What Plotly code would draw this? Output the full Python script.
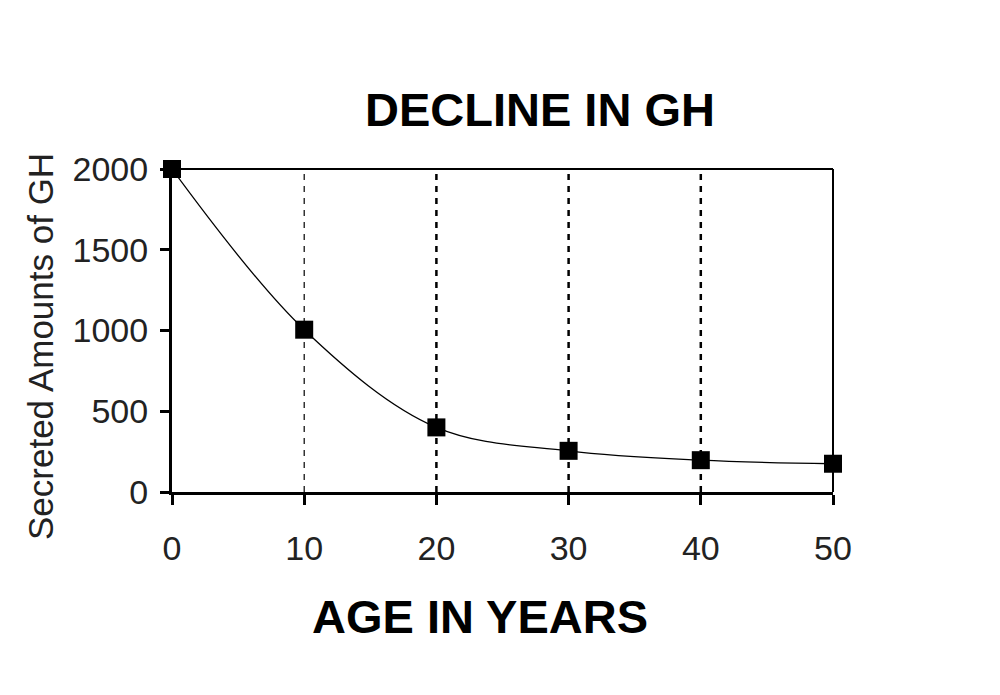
import plotly.graph_objects as go

age_years = [0, 10, 20, 30, 40, 50]
gh_amounts = [2000, 1005, 400, 255, 197, 175]
x_ticks = [0, 10, 20, 30, 40, 50]
y_ticks = [0, 500, 1000, 1500, 2000]
grid_x = [10, 20, 30, 40]
grid_widths = [1.2, 2.5, 2.5, 2.5]

fig = go.Figure()
fig.add_trace(go.Scatter(
    x=age_years, y=gh_amounts, mode="lines+markers",
    line=dict(color="black", width=1.3, shape="spline", smoothing=1.0),
    marker=dict(symbol="square", size=18, color="black"),
    showlegend=False, cliponaxis=False,
))

for gx, gw in zip(grid_x, grid_widths):
    fig.add_shape(type="line", xref="x", yref="y", x0=gx, x1=gx, y0=0, y1=2000,
                  line=dict(color="black", width=gw, dash="6px,6px"), layer="below")

# top and right frame lines
fig.add_shape(type="line", xref="paper", yref="paper", x0=0, x1=1, y0=1, y1=1,
              line=dict(color="black", width=2))
fig.add_shape(type="line", xref="paper", yref="paper", x0=1, x1=1, y0=0, y1=1,
              line=dict(color="black", width=2))

tickfont = dict(family="Liberation Sans, Arial, sans-serif", size=34, color="#222222")

# page body has an 8px margin, so margins are reduced by 8px on left/top
L, T, R, B = 164, 161, 175, 211
fig.update_layout(
    width=1000, height=695,
    paper_bgcolor="white", plot_bgcolor="white",
    margin=dict(l=L, r=R, t=T, b=B),
    xaxis=dict(range=[0, 50], tickvals=x_ticks, ticks="outside", ticklen=10, tickwidth=3,
               tickcolor="black", showline=True, linecolor="black", linewidth=3,
               showgrid=False, zeroline=False, tickfont=tickfont, ticklabelstandoff=14),
    yaxis=dict(range=[0, 2000], tickvals=y_ticks, ticks="outside", ticklen=9, tickwidth=3,
               tickcolor="black", showline=True, linecolor="black", linewidth=3,
               showgrid=False, zeroline=False, tickfont=tickfont, ticklabelstandoff=5),
    annotations=[
        dict(text="<b>DECLINE IN GH</b>", xref="paper", yref="paper",
             x=(540 - 172) / 661, y=(492 - 110) / 323, showarrow=False,
             xanchor="center", yanchor="middle",
             font=dict(family="Liberation Sans, Arial, sans-serif", size=47, color="black")),
        dict(text="<b>AGE IN YEARS</b>", xref="paper", yref="paper",
             x=(480 - 172) / 661, y=(492 - 616) / 323, showarrow=False,
             xanchor="center", yanchor="middle",
             font=dict(family="Liberation Sans, Arial, sans-serif", size=47, color="black")),
        dict(text="Secreted Amounts of GH", xref="paper", yref="paper",
             x=(40 - 172) / 661, y=(492 - 347) / 323, showarrow=False, textangle=-90,
             xanchor="center", yanchor="middle",
             font=dict(family="Liberation Sans, Arial, sans-serif", size=35, color="#222222")),
    ],
)

fig.write_html("out.html")
